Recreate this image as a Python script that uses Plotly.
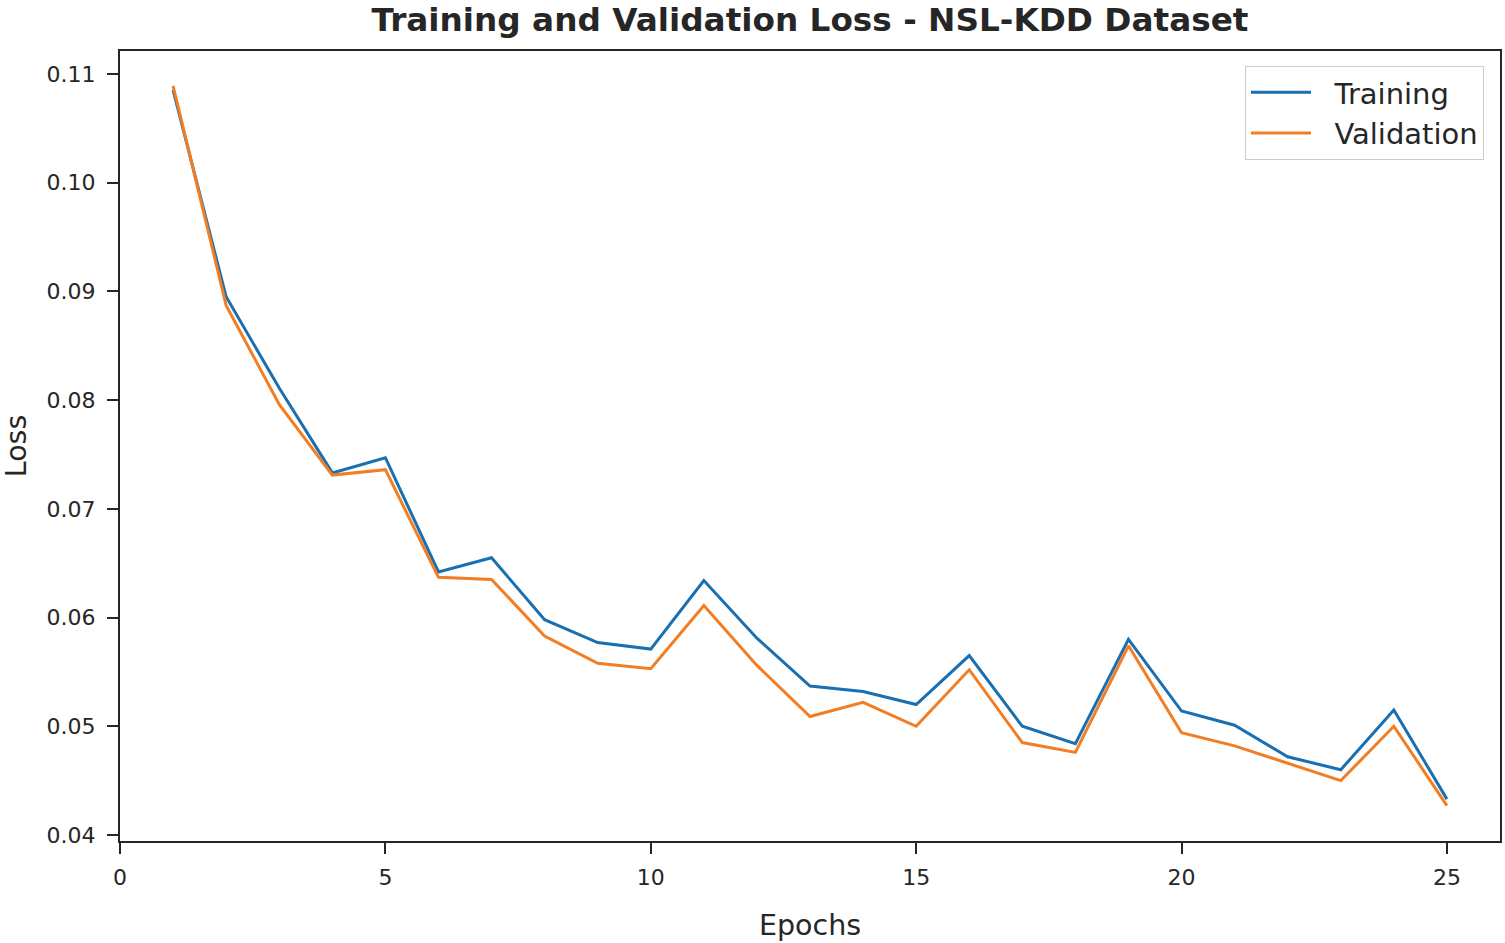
import plotly.graph_objects as go

# valori
epochs = list(range(1, 26))
train_loss = [0.1085, 0.0895, 0.0811, 0.0733, 0.0747, 0.0642, 0.0655, 0.0598, 0.0577, 0.0571,
              0.0634, 0.0581, 0.0537, 0.0532, 0.0520, 0.0565, 0.0500, 0.0484, 0.0580, 0.0514,
              0.0501, 0.0472, 0.0460, 0.0515, 0.0433]
val_loss = [0.1089, 0.0887, 0.0796, 0.0731, 0.0736, 0.0637, 0.0635, 0.0583, 0.0558, 0.0553,
            0.0611, 0.0556, 0.0509, 0.0522, 0.0500, 0.0552, 0.0485, 0.0476, 0.0574, 0.0494,
            0.0482, 0.0466, 0.0450, 0.0500, 0.0427]

x_ticks = [0, 5, 10, 15, 20, 25]
y_ticks = [0.04, 0.05, 0.06, 0.07, 0.08, 0.09, 0.10, 0.11]
y_labels = ['0.04', '0.05', '0.06', '0.07', '0.08', '0.09', '0.10', '0.11']

FONT = 'DejaVu Sans'
AXCOL = '#262626'
NBSP = '\u00a0'

W, H = 1505, 943

fig = go.Figure()
fig.add_trace(go.Scatter(x=epochs, y=train_loss, mode='lines', name=NBSP * 2 + 'Training',
                         line=dict(color='#1a6fb0', width=3)))
fig.add_trace(go.Scatter(x=epochs, y=val_loss, mode='lines', name=NBSP * 2 + 'Validation',
                         line=dict(color='#f27d22', width=3)))

# assi
fig.update_xaxes(range=[0, 26], tickvals=x_ticks, automargin=False,
                 showline=True, linewidth=2, linecolor=AXCOL, mirror=True,
                 ticks='outside', ticklen=11, tickwidth=1.5, tickcolor=AXCOL,
                 ticklabelstandoff=5,
                 showgrid=False, zeroline=False,
                 tickfont=dict(family=FONT, size=22, color=AXCOL),
                 title=dict(text='Epochs', standoff=26,
                            font=dict(family=FONT, size=28.5, color=AXCOL)))
fig.update_yaxes(range=[0.03945, 0.1121], tickvals=y_ticks, ticktext=y_labels, automargin=False,
                 showline=True, linewidth=2, linecolor=AXCOL, mirror=True,
                 ticks='outside', ticklen=11, tickwidth=1.5, tickcolor=AXCOL,
                 ticklabelstandoff=7,
                 showgrid=False, zeroline=False,
                 tickfont=dict(family=FONT, size=22, color=AXCOL),
                 title=dict(text='Loss', standoff=27,
                            font=dict(family=FONT, size=28.5, color=AXCOL)))

# titolo e legenda
fig.update_layout(
    width=W, height=H,
    plot_bgcolor='white', paper_bgcolor='white',
    margin=dict(l=120, r=5, t=51, b=102),
    title=dict(text='<b>Training and Validation Loss - NSL-KDD Dataset</b>',
               x=(120 + 1380 / 2) / W, xanchor='center', y=1 - 20 / H, yanchor='middle',
               font=dict(family=FONT, size=32.7, color=AXCOL)),
    legend=dict(x=0.9884, y=0.981, xanchor='right', yanchor='top',
                itemwidth=60,
                bgcolor='white', bordercolor='#cccccc', borderwidth=1,
                font=dict(family=FONT, size=29, color=AXCOL)),
    showlegend=True,
)

# togliamo il margine del body della pagina e la modebar
fig.write_html('out.html', config={'displayModeBar': False},
               post_script="document.body.style.margin='0';")
